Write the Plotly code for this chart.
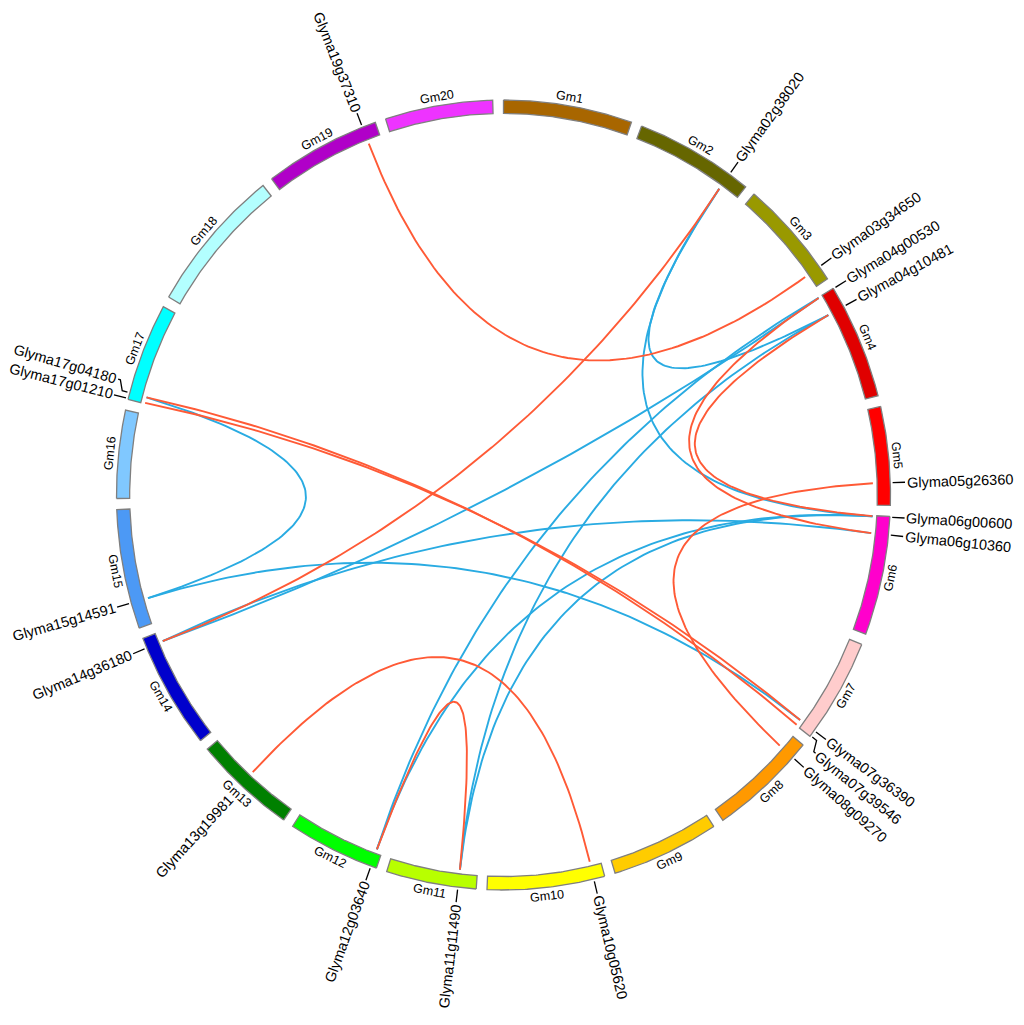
import numpy as np
import plotly.graph_objects as go

# chromosome data (Mb)
chrom_names = ["Gm1", "Gm2", "Gm3", "Gm4", "Gm5", "Gm6", "Gm7", "Gm8", "Gm9", "Gm10",
               "Gm11", "Gm12", "Gm13", "Gm14", "Gm15", "Gm16", "Gm17", "Gm18", "Gm19", "Gm20"]
chrom_len = [55.92, 51.66, 47.78, 49.24, 41.94, 50.72, 44.68, 47.00, 46.84, 50.97,
             39.17, 40.11, 44.41, 49.71, 50.94, 37.40, 41.91, 62.31, 50.59, 46.77]
chrom_colors = ["#A86600", "#666600", "#999900", "#E00000", "#FF0000", "#FF00CC", "#FFCCCC",
                "#FF9900", "#FFCC00", "#FFFF00", "#B8FF00", "#00FF00", "#008000", "#0000CC",
                "#4C99F5", "#80C8FF", "#00FFFF", "#B3FFFF", "#B000C8", "#EE33FF"]

# genes: name, chromosome, position (Mb)
gene_names = ["Glyma19g37310", "Glyma02g38020", "Glyma03g34650", "Glyma04g00530", "Glyma04g10481",
              "Glyma05g26360", "Glyma06g00600", "Glyma06g10360", "Glyma07g36390", "Glyma07g39546",
              "Glyma08g09270", "Glyma10g05620", "Glyma11g11490", "Glyma12g03640", "Glyma13g19981",
              "Glyma14g36180", "Glyma15g14591", "Glyma17g01210", "Glyma17g04180"]
gene_chrom = ["Gm19", "Gm2", "Gm3", "Gm4", "Gm4", "Gm5", "Gm6", "Gm6", "Gm7", "Gm7",
              "Gm8", "Gm10", "Gm11", "Gm12", "Gm13", "Gm14", "Gm15", "Gm17", "Gm17"]
gene_pos = [44.7, 42.9, 41.6, 0.2, 8.9, 32.4, 0.3, 7.8, 41.7, 44.3,
            6.9, 4.8, 7.9, 2.5, 23.5, 45.4, 11.1, 0.4, 2.9]

# links (red = one type, blue = other)
red_a = ["Glyma19g37310", "Glyma02g38020", "Glyma17g01210", "Glyma17g04180", "Glyma04g00530",
         "Glyma04g10481", "Glyma05g26360", "Glyma13g19981", "Glyma12g03640"]
red_b = ["Glyma03g34650", "Glyma14g36180", "Glyma07g36390", "Glyma07g39546", "Glyma06g10360",
         "Glyma06g00600", "Glyma08g09270", "Glyma10g05620", "Glyma11g11490"]
blue_a = ["Glyma17g04180", "Glyma02g38020", "Glyma02g38020", "Glyma14g36180", "Glyma14g36180",
          "Glyma15g14591", "Glyma12g03640", "Glyma12g03640", "Glyma11g11490", "Glyma11g11490"]
blue_b = ["Glyma15g14591", "Glyma04g10481", "Glyma06g00600", "Glyma04g00530", "Glyma06g10360",
          "Glyma07g36390", "Glyma04g00530", "Glyma06g00600", "Glyma04g10481", "Glyma06g00600"]

# layout settings
W, H = 1024, 1025
CX, CY = 503.5, 495.0
RX, RY = 387.0, 395.0
GAP = 1.6
R_IN, R_LINK = 0.966, 0.955
label_shift = {"Glyma07g39546": 1.5, "Glyma17g04180": 1.4}
RED, BLUE = "#FF5A36", "#29ABE2"
FONT = "Liberation Sans, Arial, sans-serif"

k = (360 - GAP * len(chrom_len)) / sum(chrom_len)
starts = {}
a = 0.0
for n, L in zip(chrom_names, chrom_len):
    starts[n] = a
    a += L * k + GAP

gene_ang = {g: starts[c] + p * k for g, c, p in zip(gene_names, gene_chrom, gene_pos)}


def xy(r, deg):
    t = np.radians(deg)
    return r * np.sin(t), r * np.cos(t)


def px_point(r, deg, extra=0.0):
    # point on ring plus extra pixels outward, returned in data units
    t = np.radians(deg)
    px = CX + r * RX * np.sin(t) + extra * np.sin(t)
    py = CY - r * RY * np.cos(t) - extra * np.cos(t)
    return (px - CX) / RX, (CY - py) / RY


fig = go.Figure()

# links
def add_link(g1, g2, color):
    t1, t2 = gene_ang[g1], gene_ang[g2]
    p0 = np.array(xy(R_LINK, t1))
    p2 = np.array(xy(R_LINK, t2))
    d = (t2 - t1) % 360
    if d > 180:
        d = 360 - d
        mid = t2 + d / 2
    else:
        mid = t1 + d / 2
    m = R_LINK * np.cos(np.radians(d / 2))
    h = min(0.41, 0.5 * m + 0.05 * max(0.0, 0.6 - m))
    c = np.array(xy(m - 2 * h, mid))
    tt = np.linspace(0, 1, 90)[:, None]
    pts = (1 - tt) ** 2 * p0 + 2 * tt * (1 - tt) * c + tt ** 2 * p2
    fig.add_trace(go.Scatter(x=pts[:, 0], y=pts[:, 1], mode="lines",
                             line=dict(color=color, width=1.9), hoverinfo="skip"))


for g1, g2 in zip(blue_a, blue_b):
    add_link(g1, g2, BLUE)
for g1, g2 in zip(red_a, red_b):
    add_link(g1, g2, RED)

# chromosome ideogram
for n, L, col in zip(chrom_names, chrom_len, chrom_colors):
    s = starts[n]
    e = s + L * k
    th = np.linspace(s, e, 60)
    xo, yo = xy(1.0, th)
    xi, yi = xy(R_IN, th[::-1])
    xs = np.concatenate([xo, xi, xo[:1]])
    ys = np.concatenate([yo, yi, yo[:1]])
    fig.add_trace(go.Scatter(x=xs, y=ys, mode="lines", fill="toself", fillcolor=col,
                             line=dict(color="#7F7F7F", width=1.3), hoverinfo="skip"))
    mid = (s + e) / 2
    if mid <= 90:
        ta = mid
    elif mid >= 270:
        ta = mid - 360
    else:
        ta = mid - 180
    lx, ly = px_point(1.0, mid, 8.5)
    fig.add_annotation(x=lx, y=ly, text=n, showarrow=False, textangle=ta,
                       xanchor="center", yanchor="middle",
                       font=dict(family=FONT, size=12.5, color="black"))

# gene ticks and labels
for g in gene_names:
    th = gene_ang[g]
    ph = th + label_shift.get(g, 0.0)
    if g != "Glyma13g19981":
        pts = [px_point(1.006, th), px_point(1.02, th), px_point(1.032, ph), px_point(1.038, ph)]
        fig.add_trace(go.Scatter(x=[p[0] for p in pts], y=[p[1] for p in pts], mode="lines",
                                 line=dict(color="black", width=1.3), hoverinfo="skip"))
    lx, ly = px_point(1.043, ph, 53)
    ta = ph - 90 if ph < 180 else ph - 270
    fig.add_annotation(x=lx, y=ly, text=g, showarrow=False, textangle=ta,
                       xanchor="center", yanchor="middle",
                       font=dict(family=FONT, size=14.5, color="black"))

fig.update_layout(
    width=W, height=H, showlegend=False,
    margin=dict(l=0, r=0, t=0, b=0, pad=0),
    paper_bgcolor="white", plot_bgcolor="white",
    xaxis=dict(range=[-CX / RX, (W - CX) / RX], visible=False, fixedrange=True),
    yaxis=dict(range=[(CY - H) / RY, CY / RY], visible=False, fixedrange=True),
)

fig.write_html("out.html", config={"displayModeBar": False},
               post_script="document.body.style.margin='0';")
